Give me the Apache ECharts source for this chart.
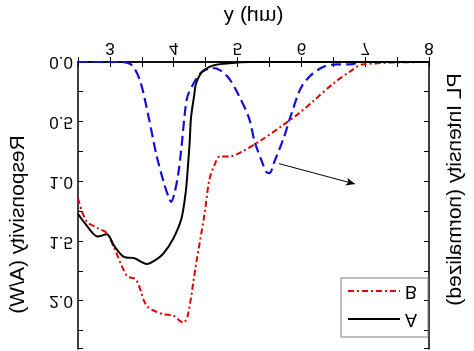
<!DOCTYPE html>
<html>
<head>
<meta charset="utf-8">
<script src="https://cdn.jsdelivr.net/npm/echarts@6/dist/echarts.min.js"></script>
<style>
  html, body { margin: 0; padding: 0; background: #fff; }
  /* the reference picture is mirrored top-to-bottom */
  #chart { width: 474px; height: 351px; transform: scaleY(-1); }
</style>
</head>
<body>
<div id="chart"></div>
<script>
// wavelength (μm) / responsivity (A/W) for sample A
const seriesA = [
  [2.5, 1.27], [2.61, 1.35], [2.81, 1.46], [2.95, 1.44], [3.07, 1.54], [3.22, 1.63],
  [3.38, 1.64], [3.58, 1.69], [3.73, 1.65], [3.84, 1.60], [3.99, 1.48], [4.12, 1.31],
  [4.19, 1.08], [4.22, 0.89], [4.25, 0.67], [4.27, 0.47], [4.32, 0.28], [4.35, 0.18],
  [4.45, 0.08], [4.61, 0.03], [4.87, 0.01], [5.2, 0], [8, 0]
]

// responsivity for sample B
const seriesB = [
  [2.5, 1.14], [2.63, 1.33], [2.81, 1.39], [2.95, 1.43], [3.07, 1.56], [3.27, 1.79],
  [3.41, 1.82], [3.58, 2.04], [3.84, 2.11], [3.99, 2.12], [4.15, 2.18], [4.22, 2.12],
  [4.35, 1.69], [4.48, 1.28], [4.56, 0.98], [4.64, 0.86], [4.72, 0.79], [4.87, 0.79],
  [5.07, 0.75], [5.38, 0.65], [5.68, 0.54], [5.96, 0.43], [6.18, 0.33], [6.5, 0.18],
  [6.76, 0.08], [6.96, 0.02], [8, 0]
]

// PL intensity (normalized), right axis
const seriesPL = [
  [2.5, 0], [3.18, 0], [3.35, 0.015], [3.48, 0.085], [3.61, 0.235], [3.73, 0.39],
  [3.84, 0.50], [3.92, 0.565], [3.96, 0.585], [4.01, 0.55], [4.07, 0.47], [4.12, 0.36],
  [4.18, 0.2], [4.22, 0.14], [4.31, 0.09], [4.38, 0.06], [4.45, 0.04], [4.61, 0.025],
  [4.73, 0.035], [4.87, 0.07], [5.02, 0.14], [5.18, 0.235], [5.27, 0.335], [5.38, 0.415],
  [5.45, 0.46], [5.50, 0.465], [5.58, 0.415], [5.72, 0.32], [5.84, 0.22], [5.99, 0.11],
  [6.15, 0.055], [6.35, 0.02], [6.56, 0.01], [6.76, 0.01], [6.96, 0], [8, 0]
]

// arrow pointing the PL curve to its axis
const arrowFrom = [5.65, 0.425]
const arrowTo = [6.84, 0.51]

const font = 'Liberation Sans, Arial, sans-serif'
const axisLine = { show: true, lineStyle: { color: '#000', width: 1.5 } }

const chart = echarts.init(document.getElementById('chart'))

const option = {
  animation: false,
  backgroundColor: '#fff',
  textStyle: { fontFamily: font, color: '#000' },
  grid: { left: 73, right: 44, top: 2, bottom: 60 },
  legend: {
    data: ['A', 'B'],
    orient: 'vertical',
    right: 46,
    top: 14,
    padding: [9, 11, 4, 6],
    itemGap: 10,
    itemWidth: 52,
    itemHeight: 14,
    itemStyle: { opacity: 0 },
    borderColor: '#808080',
    borderWidth: 1,
    textStyle: { fontSize: 18, color: '#000', fontFamily: font }
  },
  xAxis: [
    {
      type: 'value',
      min: 2.5,
      max: 8,
      interval: 0.5,
      name: 'λ (μm)',
      nameLocation: 'middle',
      nameGap: 36,
      nameTextStyle: { fontSize: 21, color: '#000', fontFamily: font },
      axisLine: axisLine,
      axisTick: { inside: true, length: 5, lineStyle: { color: '#000' } },
      axisLabel: {
        margin: 6,
        fontSize: 17,
        color: '#000',
        fontFamily: font,
        formatter: v => (Math.abs(v - Math.round(v)) < 1e-6 ? String(Math.round(v)) : '')
      },
      splitLine: { show: false }
    },
    {
      type: 'value',
      position: 'top',
      min: 2.5,
      max: 8,
      interval: 0.5,
      axisLine: axisLine,
      axisTick: { inside: true, length: 5, lineStyle: { color: '#000' } },
      axisLabel: { show: false },
      splitLine: { show: false }
    }
  ],
  yAxis: [
    {
      type: 'value',
      min: 0,
      max: 2.4,
      interval: 0.25,
      name: 'Responsivity (A/W)',
      nameLocation: 'middle',
      nameRotate: 90,
      nameGap: 49,
      nameTextStyle: { fontSize: 21, color: '#000', fontFamily: font, padding: [0, 0, 0, 38] },
      axisLine: axisLine,
      axisTick: { inside: true, length: 5, lineStyle: { color: '#000' } },
      axisLabel: {
        margin: 5,
        fontSize: 17,
        color: '#000',
        fontFamily: font,
        formatter: v => (Math.abs(v * 2 - Math.round(v * 2)) < 1e-6 ? v.toFixed(1) : '')
      },
      splitLine: { show: false }
    },
    {
      type: 'value',
      min: 0,
      max: 1.2,
      interval: 0.125,
      position: 'right',
      name: 'PL Intensity (normalized)',
      nameLocation: 'middle',
      nameRotate: 90,
      nameGap: 16,
      nameTextStyle: { fontSize: 21, color: '#000', fontFamily: font, padding: [0, 32, 0, 0] },
      axisLine: axisLine,
      axisTick: { inside: true, length: 5, lineStyle: { color: '#000' } },
      axisLabel: { show: false },
      splitLine: { show: false }
    }
  ],
  series: [
    {
      name: 'PL',
      type: 'line',
      yAxisIndex: 1,
      data: seriesPL,
      smooth: 0.3,
      symbol: 'none',
      z: 1,
      lineStyle: { color: '#1010d8', width: 2.2, type: [10, 5] },
      itemStyle: { color: '#1010d8' },
      markLine: {
        silent: true,
        symbol: ['none', 'arrow'],
        symbolSize: [6, 9],
        label: { show: false },
        lineStyle: { color: '#000', width: 1, type: 'solid' },
        data: [[{ coord: arrowFrom }, { coord: arrowTo }]]
      }
    },
    {
      name: 'B',
      type: 'line',
      data: seriesB,
      smooth: 0.3,
      symbol: 'none',
      z: 2,
      lineStyle: { color: '#e00000', width: 2, type: [6, 3, 2, 3] },
      itemStyle: { color: '#e00000' }
    },
    {
      name: 'A',
      type: 'line',
      data: seriesA,
      smooth: 0.3,
      symbol: 'none',
      z: 3,
      lineStyle: { color: '#000', width: 2 },
      itemStyle: { color: '#000' }
    }
  ]
}

chart.setOption(option)
</script>
</body>
</html>
